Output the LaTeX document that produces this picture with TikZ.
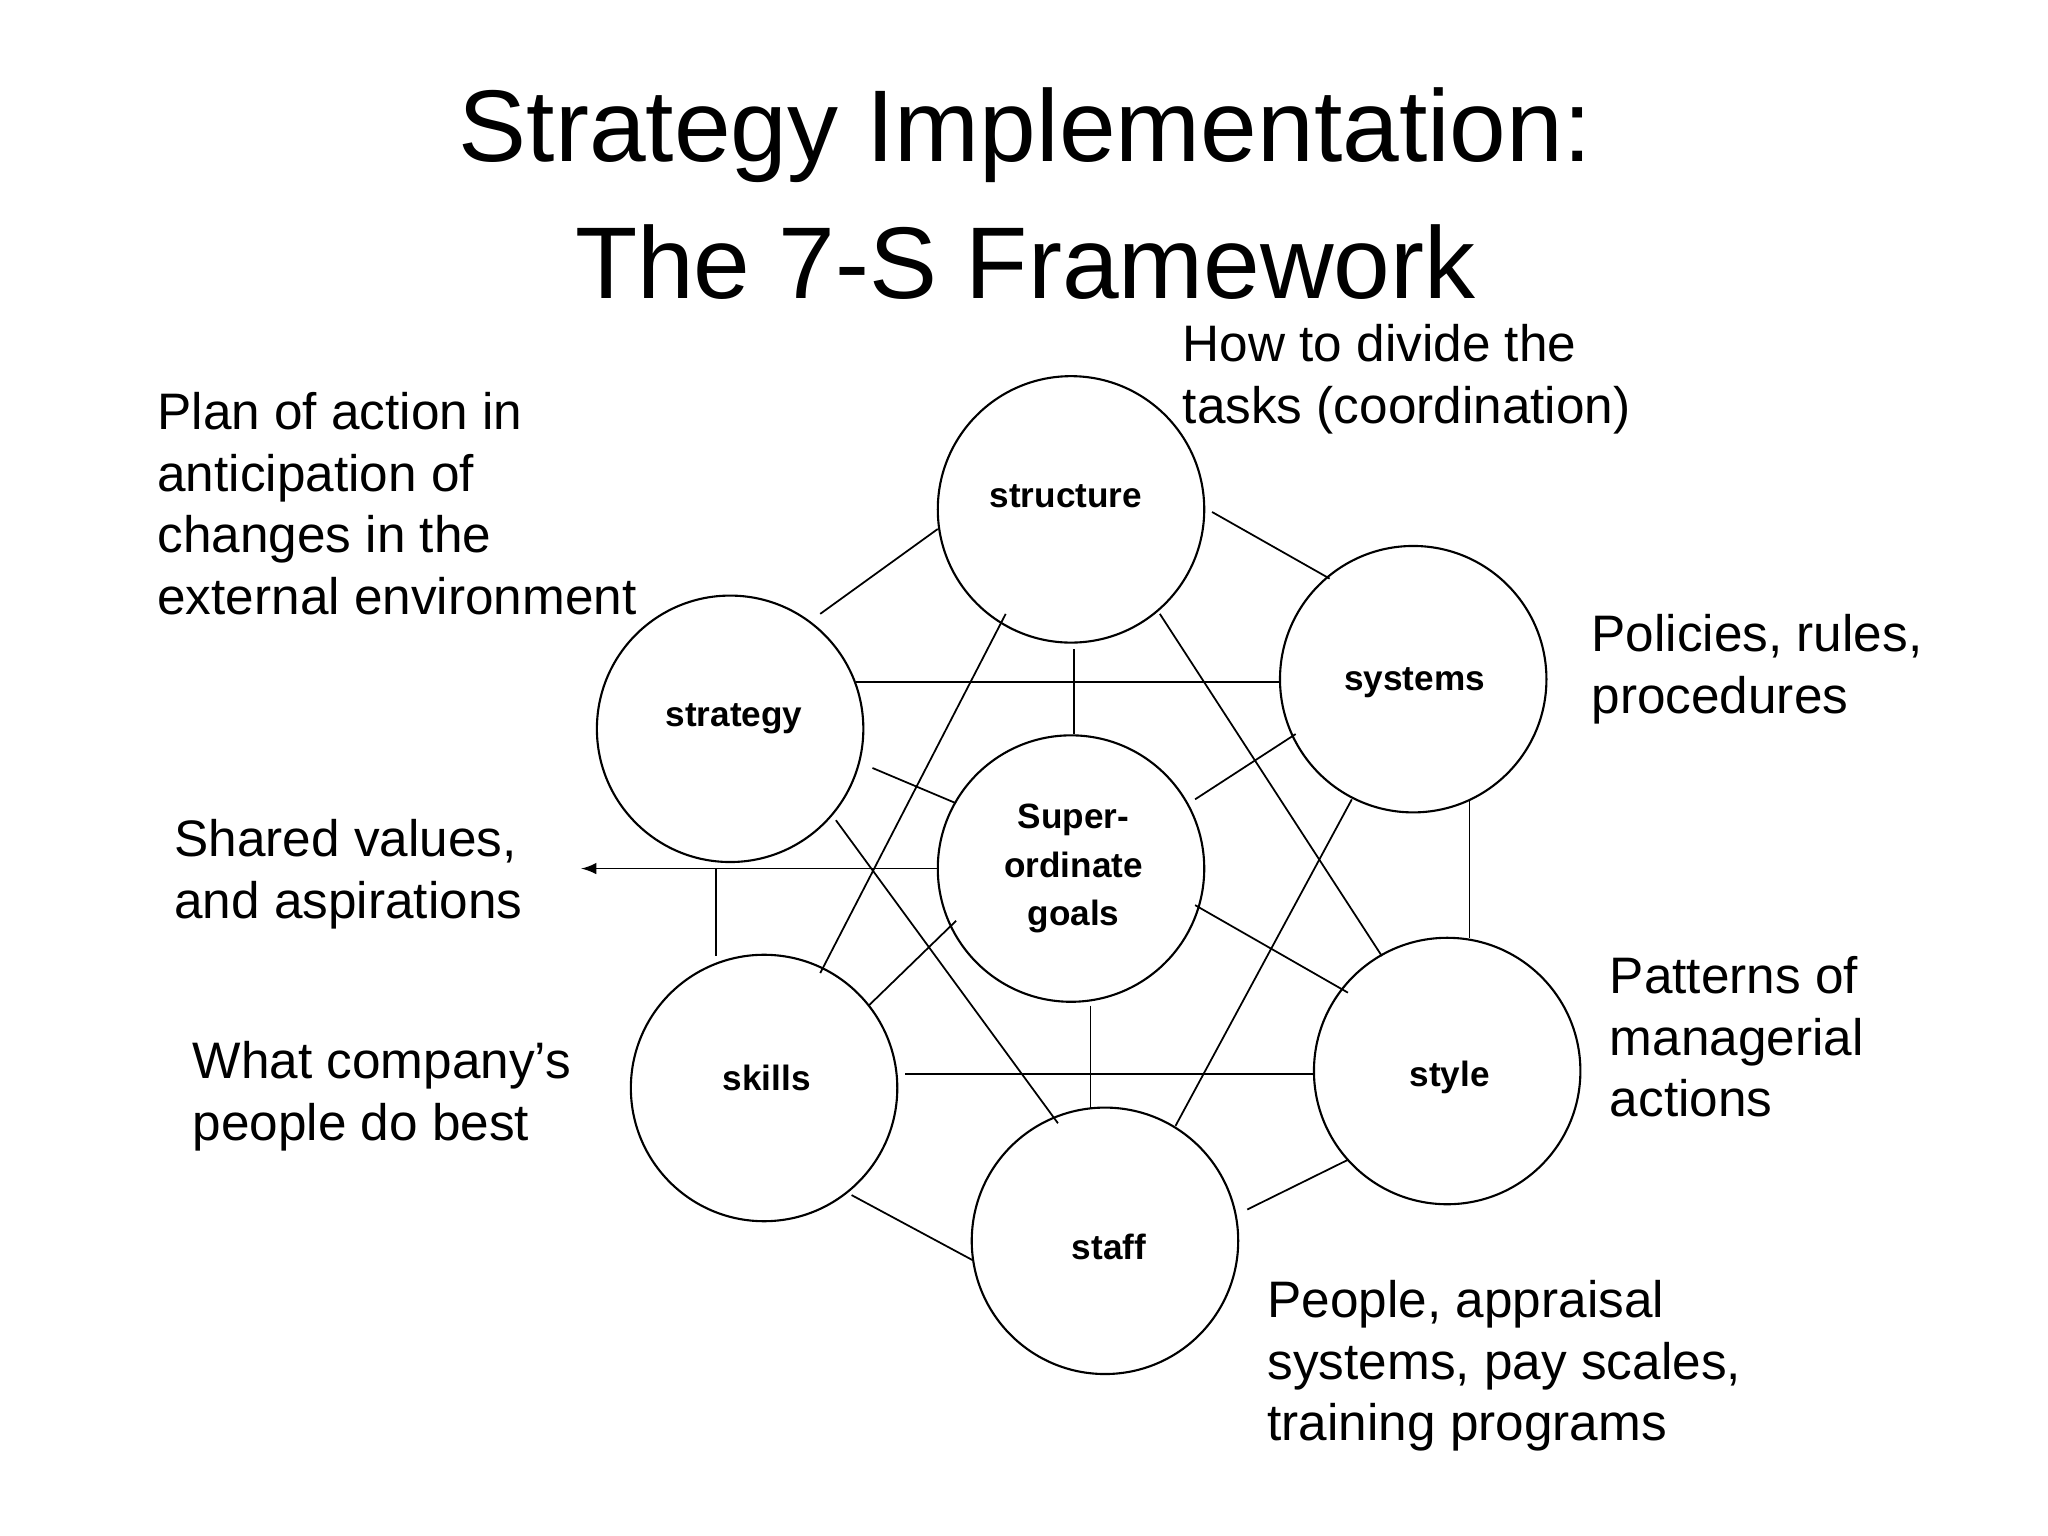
\documentclass[tikz,border=0pt]{standalone}
\usepackage{fontspec}
\setmainfont{Liberation Sans}
\begin{document}
\begin{tikzpicture}[x=0.01306cm,y=-0.01306cm,
  sc/.style={circle,draw,line width=0.6pt,minimum size={204*0.01306cm},inner sep=0pt},
  lbl/.style={font=\fontsize{10pt}{12.5pt}\selectfont\bfseries,align=center},
  desc/.style={font=\fontsize{14.6pt}{17.5pt}\selectfont,align=left,anchor=north west,inner sep=0pt},
  ln/.style={line width=0.5pt}]
\useasboundingbox[fill=white] (0,0) rectangle (1568,1176);
\node[font=\fontsize{29pt}{39pt}\selectfont,align=center] (title) at (785,148) {Strategy Implementation:\\The 7-S Framework};
\node[sc] (structure) at (820,390) {};
\node[sc] (systems) at (1082,520) {};
\node[sc] (strategy) at (559,558) {};
\node[sc] (goals) at (820,665) {};
\node[sc] (skills) at (585,833) {};
\node[sc] (style) at (1108,820) {};
\node[sc] (staff) at (846,950) {};
\node[lbl] (lstructure) at (816,380) {structure};
\node[lbl] (lsystems) at (1083,523) {systems};
\node[lbl] (lstrategy) at (562,550) {strategy};
\node[lbl,font=\fontsize{10pt}{13.8pt}\selectfont\bfseries] (lgoals) at (822,665) {Super-\\ordinate\\goals};
\node[lbl] (lskills) at (587,825) {skills};
\node[lbl] (lstyle) at (1110,825) {style};
\node[lbl] (lstaff) at (849,955) {staff};
\draw[ln] (628,470)--(718,405);
\draw[ln] (928,392)--(1018,443);
\draw[ln] (655,522)--(980,522);
\draw[ln] (822,497)--(822,562);
\draw[ln] (770,470)--(628,745);
\draw[ln] (888,470)--(1058,732);
\draw[ln] (668,588)--(732,615);
\draw[ln] (640,628)--(810,860);
\draw[ln] (548,665)--(548,732);
\draw[ln] (992,562)--(915,612);
\draw[ln] (1125,612)--(1125,718);
\draw[ln] (1035,612)--(900,862);
\coordinate (arrend) at (445,665);
\draw[ln,-latex] (goals.west)--(arrend);
\draw[ln] (732,705)--(665,770);
\draw[ln] (915,693)--(1032,760);
\draw[ln] (835,770)--(835,848);
\draw[ln] (693,822)--(1005,822);
\draw[ln] (652,915)--(745,965);
\draw[ln] (955,926)--(1032,888);
\node[desc] (d1) at (120,300) {Plan of action in\\anticipation of\\changes in the\\external environment};
\node[desc] (d2) at (905,248) {How to divide the\\tasks (coordination)};
\node[desc] (d3) at (1218,470) {Policies, rules,\\procedures};
\node[desc] (d4) at (133,627) {Shared values,\\and aspirations};
\node[desc] (d5) at (1232,732) {Patterns of\\managerial\\actions};
\node[desc] (d6) at (147,797) {What company’s\\people do best};
\node[desc] (d7) at (970,980) {People, appraisal\\systems, pay scales,\\training programs};
\end{tikzpicture}
\end{document}
